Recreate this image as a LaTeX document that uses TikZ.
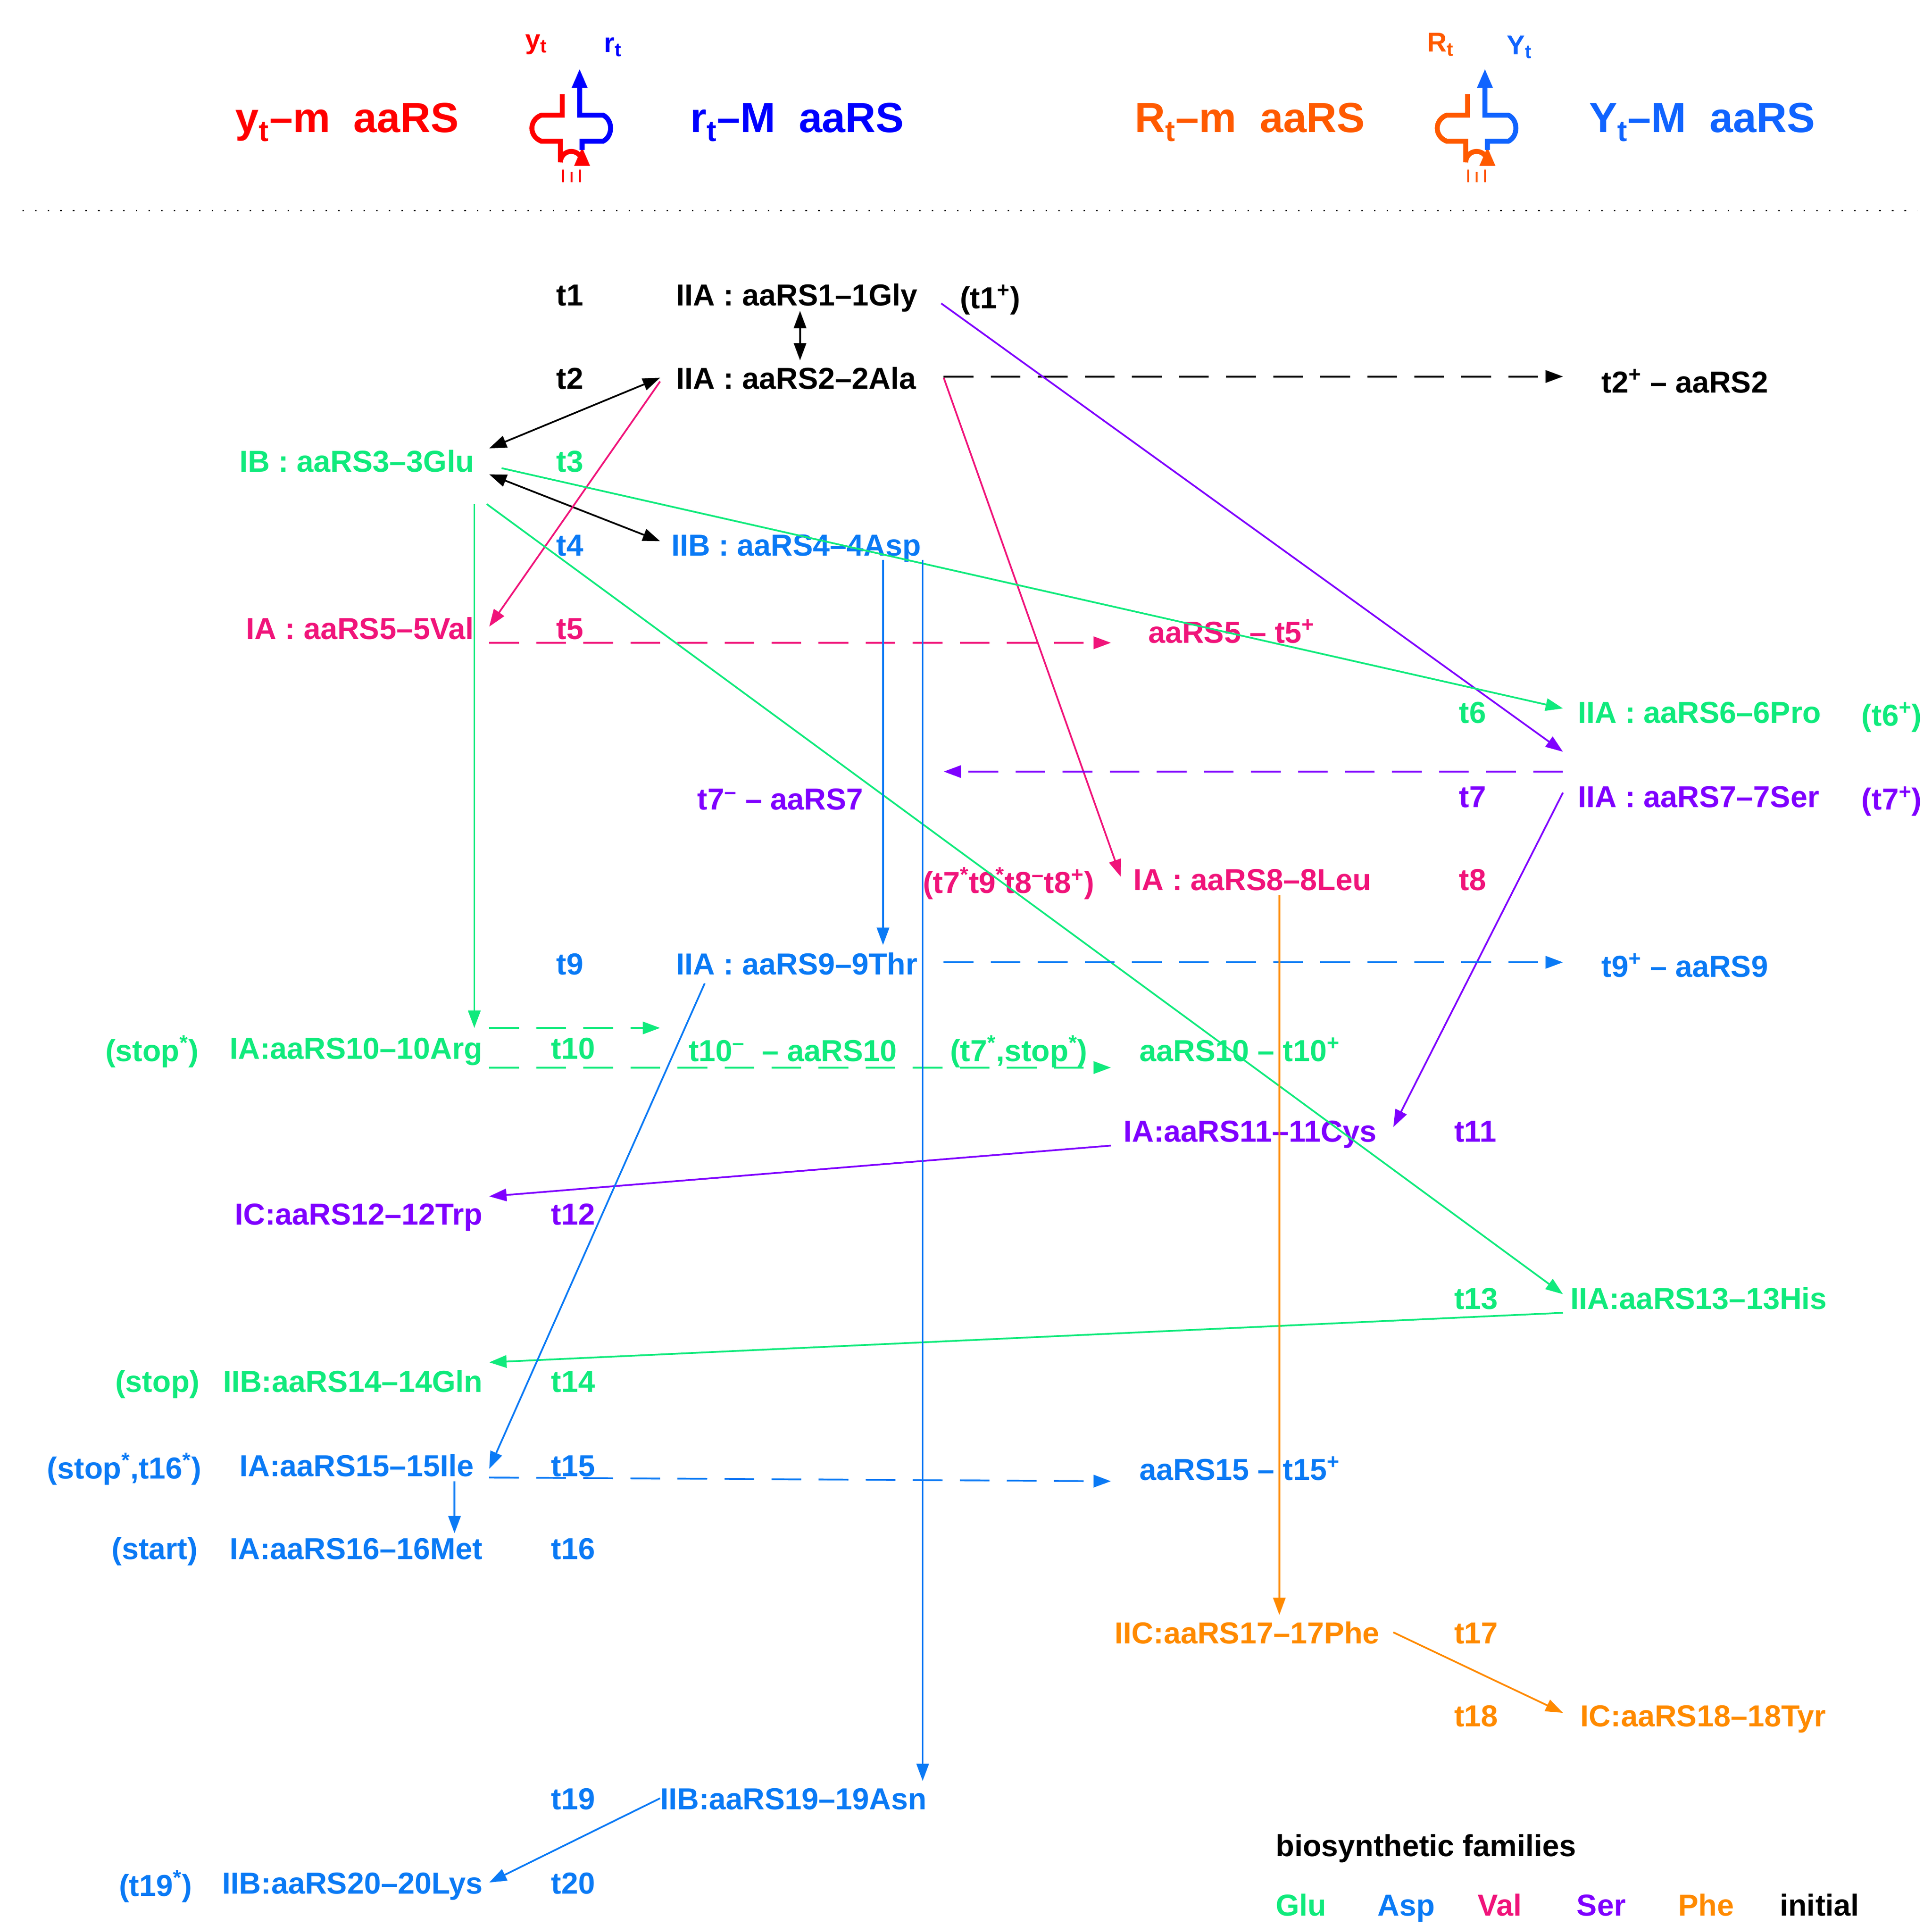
\documentclass[tikz,border=0pt]{standalone}
\usepackage{fontspec}
\setmainfont{Liberation Sans}
\usetikzlibrary{arrows.meta}
\definecolor{glu}{HTML}{10EA7C}
\definecolor{asp}{HTML}{0A7AF5}
\definecolor{val}{HTML}{F0147A}
\definecolor{ser}{HTML}{7F00FF}
\definecolor{phe}{HTML}{FF8A00}
\definecolor{tred}{HTML}{FF0000}
\definecolor{tblue}{HTML}{0000FF}
\definecolor{tora}{HTML}{FF5A00}
\definecolor{tblu}{HTML}{1064FF}
\newcommand{\tsym}[3]{%
\begin{scope}[xshift=#1pt,line width=4pt]
\draw[#2] (454,76) -- (454,93) -- (437,93) .. controls (427,97) and (427,110) .. (437,114) -- (452.5,114) -- (452.5,131) arc[start angle=180,end angle=360,radius=8.75];
\fill[#2] (463.5,134) -- (476.5,134) -- (470,119) -- cycle;
\draw[#3] (470,121) -- (470,114) -- (487,114) .. controls (495,110) and (495,97) .. (487,93) -- (468,93) -- (468,70);
\fill[#3] (461.5,71) -- (474.5,71) -- (468,56) -- cycle;
\draw[#2,line width=1.5pt] (454.6,137)--(454.6,147) (461.4,139)--(461.4,147) (468.2,137)--(468.2,147);
\end{scope}}
\tikzset{
 tx/.style={font=\bfseries\fontsize{24.5}{28}\selectfont, inner sep=0pt, yshift=-9pt},
 lw/.style={tx,anchor=base west},
 le/.style={tx,anchor=base east},
 ttl/.style={font=\bfseries\fontsize{34}{40}\selectfont, inner sep=0pt, anchor=base west, yshift=-12pt},
 sl/.style={font=\bfseries\fontsize{22}{26}\selectfont, inner sep=0pt},
 ar/.style={line width=1.4pt,-{Triangle[length=14pt,width=10pt]}},
 dar/.style={ar,{Triangle[length=14pt,width=10pt]}-{Triangle[length=14pt,width=10pt]}},
 da/.style={ar,dash pattern=on 24pt off 14pt},
}
\begin{document}
\begin{tikzpicture}[x=1pt,y=-1pt]
\useasboundingbox (0,0) rectangle (1560,1554);
% header
\node[ttl,tred] (h1) at (190,95) {y\textsubscript{t}–m\ \ aaRS};
\node[ttl,tblue] (h2) at (557,95) {r\textsubscript{t}–M\ \ aaRS};
\node[ttl,tora] (h3) at (916,95) {R\textsubscript{t}–m\ \ aaRS};
\node[ttl,tblu] (h4) at (1283,95) {Y\textsubscript{t}–M\ \ aaRS};
\tsym{0}{tred}{tblue}
\tsym{731}{tora}{tblu}
\node[sl,tred] (s1) at (433,36) {y\textsubscript{t}};
\node[sl,tblue] (s2) at (495,38) {r\textsubscript{t}};
\node[sl,tora] (s3) at (1163,36) {R\textsubscript{t}};
\node[sl,tblu] (s4) at (1227,38) {Y\textsubscript{t}};
\draw[line width=1.2pt,dash pattern=on 1.2pt off 9pt] (18,170) -- (1548,170);
% rows
\node[lw] (t1) at (449,238) {t1};
\node[lw] (n1) at (546,238) {IIA : aaRS1–1Gly};
\node[lw] (p1) at (775,240) {(t1\textsuperscript{+})};
\node[lw] (t2) at (449,305) {t2};
\node[lw] (n2) at (546,305) {IIA : aaRS2–2Ala};
\node[lw] (q2) at (1293,308) {t2\textsuperscript{+} – aaRS2};
\node[le,glu] (n3) at (383,372) {IB : aaRS3–3Glu};
\node[lw,glu] (t3) at (449,372) {t3};
\node[lw,asp] (t4) at (449,440) {t4};
\node[lw,asp] (n4) at (542,440) {IIB : aaRS4–4Asp};
\node[le,val] (n5) at (383,507) {IA : aaRS5–5Val};
\node[lw,val] (t5) at (449,507) {t5};
\node[lw,val] (q5) at (927,510) {aaRS5 – t5\textsuperscript{+}};
\node[lw,glu] (t6) at (1178,575) {t6};
\node[lw,glu] (n6) at (1274,575) {IIA : aaRS6–6Pro};
\node[lw,glu] (p6) at (1503,577) {(t6\textsuperscript{+})};
\node[lw,ser] (q7) at (563,645) {t7\textsuperscript{–} – aaRS7};
\node[lw,ser] (t7) at (1178,643) {t7};
\node[lw,ser] (n7) at (1274,643) {IIA : aaRS7–7Ser};
\node[lw,ser] (p7) at (1503,645) {(t7\textsuperscript{+})};
\node[lw,val] (p8) at (745,712) {(t7\textsuperscript{*}t9\textsuperscript{*}t8\textsuperscript{–}t8\textsuperscript{+})};
\node[lw,val] (n8) at (915,710) {IA : aaRS8–8Leu};
\node[lw,val] (t8) at (1178,710) {t8};
\node[lw,asp] (t9) at (449,778) {t9};
\node[lw,asp] (n9) at (546,778) {IIA : aaRS9–9Thr};
\node[lw,asp] (q9) at (1293,780) {t9\textsuperscript{+} – aaRS9};
\node[lw,glu] (p10) at (85,848) {(stop\textsuperscript{*})};
\node[le,glu] (n10) at (390,846) {IA:aaRS10–10Arg};
\node[lw,glu] (t10) at (445,846) {t10};
\node[lw,glu] (q10a) at (556,848) {t10\textsuperscript{–}\ \ – aaRS10};
\node[lw,glu] (q10b) at (767,848) {(t7\textsuperscript{*},stop\textsuperscript{*})};
\node[lw,glu] (q10c) at (920,848) {aaRS10 – t10\textsuperscript{+}};
\node[lw,ser] (n11) at (907,913) {IA:aaRS11–11Cys};
\node[lw,ser] (t11) at (1174,913) {t11};
\node[le,ser] (n12) at (390,980) {IC:aaRS12–12Trp};
\node[lw,ser] (t12) at (445,980) {t12};
\node[lw,glu] (t13) at (1174,1048) {t13};
\node[lw,glu] (n13) at (1268,1048) {IIA:aaRS13–13His};
\node[lw,glu] (p14) at (93,1115) {(stop)};
\node[le,glu] (n14) at (390,1115) {IIB:aaRS14–14Gln};
\node[lw,glu] (t14) at (445,1115) {t14};
\node[lw,asp] (p15) at (38,1185) {(stop\textsuperscript{*},t16\textsuperscript{*})};
\node[le,asp] (n15) at (383,1183) {IA:aaRS15–15Ile};
\node[lw,asp] (t15) at (445,1183) {t15};
\node[lw,asp] (q15) at (920,1186) {aaRS15 – t15\textsuperscript{+}};
\node[lw,asp] (p16) at (90,1250) {(start)};
\node[le,asp] (n16) at (390,1250) {IA:aaRS16–16Met};
\node[lw,asp] (t16) at (445,1250) {t16};
\node[lw,phe] (n17) at (900,1318) {IIC:aaRS17–17Phe};
\node[lw,phe] (t17) at (1174,1318) {t17};
\node[lw,phe] (t18) at (1174,1385) {t18};
\node[lw,phe] (n18) at (1276,1385) {IC:aaRS18–18Tyr};
\node[lw,asp] (t19) at (445,1452) {t19};
\node[lw,asp] (n19) at (533,1452) {IIB:aaRS19–19Asn};
\node[lw,asp] (p20) at (96,1522) {(t19\textsuperscript{*})};
\node[le,asp] (n20) at (390,1520) {IIB:aaRS20–20Lys};
\node[lw,asp] (t20) at (445,1520) {t20};
% legend
\node[lw] (lg) at (1030,1490) {biosynthetic families};
\node[lw,glu] (l1) at (1030,1538) {Glu};
\node[lw,asp] (l2) at (1112,1538) {Asp};
\node[lw,val] (l3) at (1193,1538) {Val};
\node[lw,ser] (l4) at (1273,1538) {Ser};
\node[lw,phe] (l5) at (1355,1538) {Phe};
\node[lw] (l6) at (1437,1538) {initial};
% coordinates for arrow ends
\coordinate (a1) at (646,251); \coordinate (a2) at (646,291);
\coordinate (b1) at (533,305); \coordinate (b2) at (395,362);
\coordinate (c1) at (762,304); \coordinate (c2) at (1262,304);
\coordinate (d1) at (395,383); \coordinate (d2) at (533,437);
\coordinate (e1) at (533,308); \coordinate (e2) at (395,506);
\coordinate (f1) at (762,305); \coordinate (f2) at (905,708);
\coordinate (g1) at (395,519); \coordinate (g2) at (897,519);
\coordinate (h1a) at (760,245); \coordinate (h2a) at (1262,607);
\coordinate (i1) at (1262,623); \coordinate (i2) at (762,623);
\coordinate (j1) at (1262,640); \coordinate (j2) at (1125,910);
\coordinate (k1) at (897,925); \coordinate (k2) at (395,966);
\coordinate (l1a) at (405,378); \coordinate (l2a) at (1262,572);
\coordinate (m1) at (393,407); \coordinate (m2) at (1262,1045);
\coordinate (o1) at (383,407); \coordinate (o2) at (383,830);
\coordinate (r1) at (395,830); \coordinate (r2) at (533,830);
\coordinate (u1) at (395,862); \coordinate (u2) at (897,862);
\coordinate (v1) at (1262,1060); \coordinate (v2) at (395,1100);
\coordinate (w1) at (713,452); \coordinate (w2) at (713,763);
\coordinate (x1) at (745,452); \coordinate (x2) at (745,1438);
\coordinate (y1) at (762,777); \coordinate (y2) at (1262,777);
\coordinate (z1) at (569,794); \coordinate (z2) at (395,1186);
\coordinate (aa1) at (395,1193); \coordinate (aa2) at (897,1196);
\coordinate (bb1) at (367,1196); \coordinate (bb2) at (367,1238);
\coordinate (cc1) at (533,1452); \coordinate (cc2) at (395,1520);
\coordinate (dd1) at (1033,723); \coordinate (dd2) at (1033,1304);
\coordinate (ee1) at (1125,1318); \coordinate (ee2) at (1262,1383);
% arrows
\draw[dar] (a1) -- (a2);
\draw[dar] (b1) -- (b2);
\draw[da] (c1) -- (c2);
\draw[dar] (d1) -- (d2);
\draw[ar,val] (e1) -- (e2);
\draw[ar,val] (f1) -- (f2);
\draw[da,val] (g1) -- (g2);
\draw[ar,ser] (h1a) -- (h2a);
\draw[da,ser] (i1) -- (i2);
\draw[ar,ser] (j1) -- (j2);
\draw[ar,ser] (k1) -- (k2);
\draw[ar,glu] (l1a) -- (l2a);
\draw[ar,glu] (m1) -- (m2);
\draw[ar,glu] (o1) -- (o2);
\draw[da,glu] (r1) -- (r2);
\draw[da,glu] (u1) -- (u2);
\draw[ar,glu] (v1) -- (v2);
\draw[ar,asp] (w1) -- (w2);
\draw[ar,asp] (x1) -- (x2);
\draw[da,asp] (y1) -- (y2);
\draw[ar,asp] (z1) -- (z2);
\draw[da,asp] (aa1) -- (aa2);
\draw[ar,asp] (bb1) -- (bb2);
\draw[ar,asp] (cc1) -- (cc2);
\draw[ar,phe] (dd1) -- (dd2);
\draw[ar,phe] (ee1) -- (ee2);
\end{tikzpicture}
\end{document}
